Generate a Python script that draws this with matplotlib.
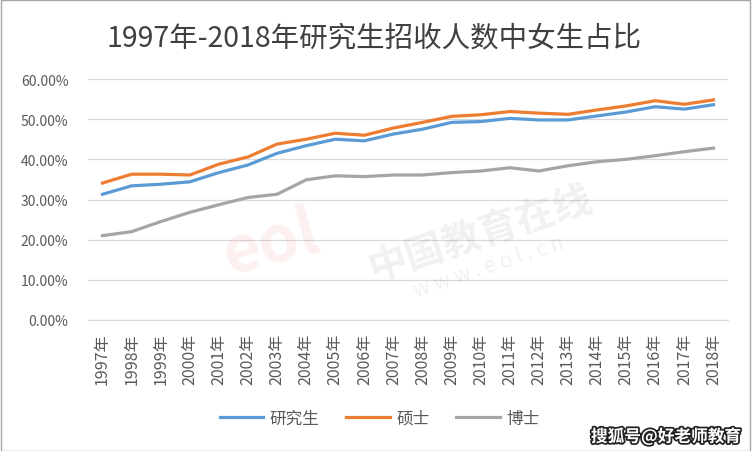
import matplotlib.pyplot as plt
import matplotlib.patheffects as pe
import numpy as np

plt.rcParams['font.family'] = ['Noto Sans CJK SC', 'DejaVu Sans']

years = [f"{y}年" for y in range(1997, 2019)]
# share of women among enrolled students (%)
yanjiusheng = [31.3, 33.4, 33.8, 34.4, 36.7, 38.6, 41.5, 43.4, 45.0, 44.6, 46.3,
               47.5, 49.2, 49.4, 50.2, 49.8, 49.8, 50.8, 51.8, 53.1, 52.5, 53.6]
shuoshi = [34.1, 36.3, 36.3, 36.1, 38.8, 40.6, 43.8, 45.0, 46.5, 46.0, 47.8,
           49.2, 50.7, 51.1, 51.9, 51.5, 51.2, 52.3, 53.3, 54.6, 53.7, 54.8]
boshi = [21.0, 22.0, 24.5, 26.8, 28.7, 30.5, 31.3, 34.9, 35.9, 35.7, 36.1,
         36.1, 36.7, 37.1, 37.9, 37.1, 38.4, 39.4, 40.0, 40.9, 41.9, 42.8]

fig = plt.figure(figsize=(7.52, 4.52), dpi=100)
ax = fig.add_axes([88 / 752, 1 - 321 / 452, 640 / 752, 241 / 452])

x = np.arange(len(years))
ax.plot(x, yanjiusheng, color='#5B9BD5', lw=2.3, label='研究生', zorder=3)
ax.plot(x, shuoshi, color='#ED7D31', lw=2.3, label='硕士', zorder=3)
ax.plot(x, boshi, color='#A5A5A5', lw=2.3, label='博士', zorder=3)

ax.set_xlim(-0.5, len(years) - 0.5)
ax.set_ylim(0, 60)
ax.set_yticks(np.arange(0, 61, 10))
ax.set_yticklabels([f"{v:.2f}%" for v in np.arange(0, 61, 10)], fontsize=10, color='#595959')
ax.set_xticks(x)
ax.set_xticklabels(years, rotation=90, fontsize=11.5, color='#595959')
ax.tick_params(axis='y', length=0, pad=14)
ax.tick_params(axis='x', length=0, pad=9)
ax.grid(axis='y', color='#D9D9D9', lw=0.9)
ax.set_axisbelow(True)
for s in ['top', 'right', 'left']:
    ax.spines[s].set_visible(False)
ax.spines['bottom'].set_color('#D9D9D9')

# faint site watermark
fig.text(0.36, 0.46, 'eol', fontsize=46, color='#E84040', alpha=0.08,
         rotation=15, ha='center', va='center', fontweight='bold', style='italic')
fig.text(0.64, 0.48, '中国教育在线', fontsize=28, color='#000000', alpha=0.06,
         rotation=18, ha='center', va='center', fontweight='bold')
fig.text(0.65, 0.41, 'w w w . e o l . c n', fontsize=15, color='#000000', alpha=0.06,
         rotation=18, ha='center', va='center')

fig.text(0.498, 0.915, '1997年-2018年研究生招收人数中女生占比', fontsize=20.5,
         color='#404040', ha='center', va='center')

fig.legend(loc='center', bbox_to_anchor=(0.505, 0.072), ncol=3, frameon=False,
           fontsize=12, handlelength=2.6, columnspacing=1.6, handletextpad=0.4,
           labelcolor='#595959')

fig.text(0.985, 0.032, '搜狐号@好老师教育', fontsize=12, color='white', fontweight='bold',
         ha='right', va='center',
         path_effects=[pe.withStroke(linewidth=2.5, foreground='#222222')])

# outer border
fig.patches.append(plt.Rectangle((0.001, 0.001), 0.997, 0.997, transform=fig.transFigure,
                                 fill=False, edgecolor='#A6A6A6', lw=1))

fig.savefig('out.png', dpi=100)
